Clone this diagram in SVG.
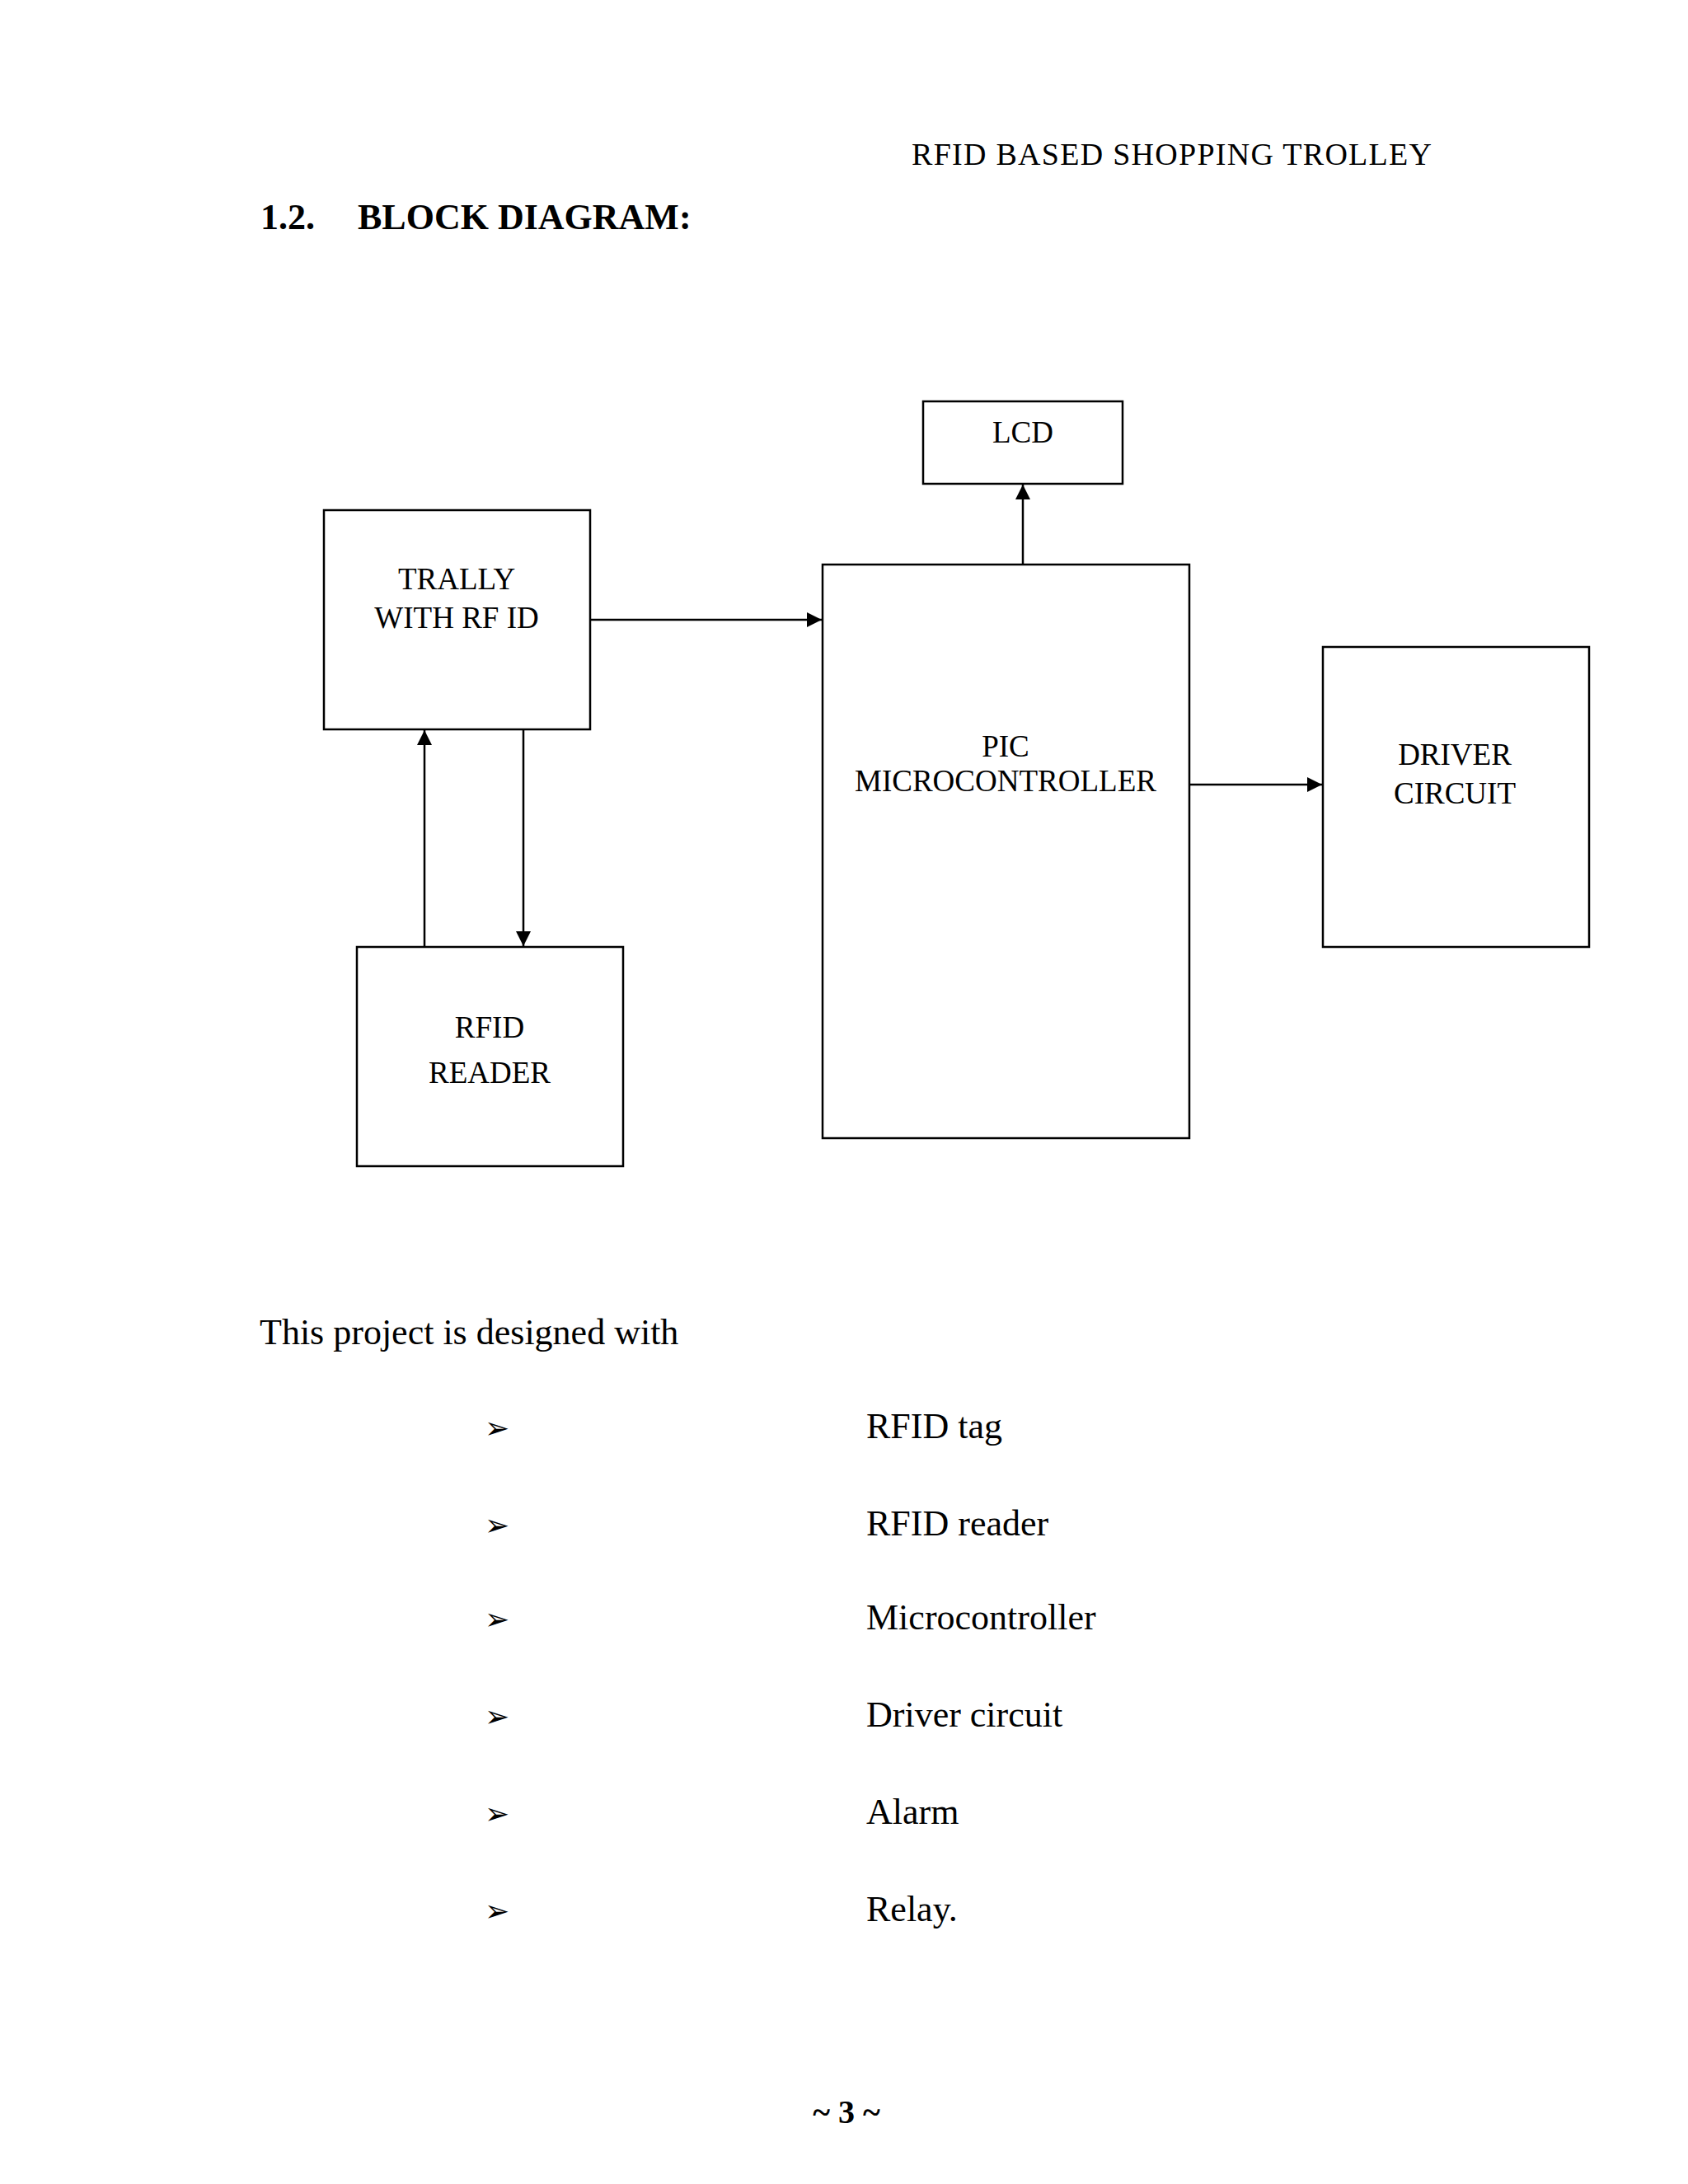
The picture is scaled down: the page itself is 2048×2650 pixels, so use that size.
<svg xmlns="http://www.w3.org/2000/svg" width="2048" height="2650" viewBox="0 0 2048 2650">
<style>
text{font-family:"Liberation Serif","Times New Roman",serif;fill:#000}
.box{fill:none;stroke:#000;stroke-width:2.5}
.c{text-anchor:middle;font-size:37px}
.b{font-size:44px}
.ln{stroke:#000;stroke-width:2.5;fill:none}
</style>
<defs><marker id="ah" markerWidth="10" markerHeight="10" refX="9" refY="5" orient="auto" markerUnits="userSpaceOnUse" viewBox="0 0 10 10"><path d="M0,0 L10,5 L0,10 z" fill="#000"/></marker>
<marker id="a" viewBox="0 0 10 10" refX="10" refY="5" markerWidth="20" markerHeight="18" markerUnits="userSpaceOnUse" orient="auto"><path d="M0,0 L10,5 L0,10 z" fill="#000"/></marker></defs>
<rect width="2048" height="2650" fill="#fff"/>
<text x="1106" y="200" font-size="38" textLength="631">RFID BASED SHOPPING TROLLEY</text>
<text x="316" y="278" font-size="44" font-weight="bold">1.2.</text>
<text x="434" y="278" font-size="44" font-weight="bold">BLOCK DIAGRAM:</text>
<g id="lcd"><rect class="box" x="1120" y="487" width="242" height="100"/><text class="c" x="1241" y="537">LCD</text></g>
<g id="trally"><rect class="box" x="393" y="619" width="323" height="266"/><text class="c" x="554" y="715">TRALLY</text><text class="c" x="554" y="762">WITH RF ID</text></g>
<g id="pic"><rect class="box" x="998" y="685" width="445" height="696"/><text class="c" x="1220" y="918">PIC</text><text class="c" x="1220" y="960">MICROCONTROLLER</text></g>
<g id="driver"><rect class="box" x="1605" y="785" width="323" height="364"/><text class="c" x="1765" y="928" font-size="40">DRIVER</text><text class="c" x="1765" y="975" font-size="40">CIRCUIT</text></g>
<g id="reader"><rect class="box" x="433" y="1149" width="323" height="266"/><text class="c" x="594" y="1259" font-size="46">RFID</text><text class="c" x="594" y="1314" font-size="46">READER</text></g>
<g id="connectors">
<line class="ln" x1="1241" y1="685" x2="1241" y2="588" marker-end="url(#a)"/>
<line class="ln" x1="716" y1="752" x2="997" y2="752" marker-end="url(#a)"/>
<line class="ln" x1="1443" y1="952" x2="1604" y2="952" marker-end="url(#a)"/>
<line class="ln" x1="515" y1="1149" x2="515" y2="886" marker-end="url(#a)"/>
<line class="ln" x1="635" y1="885" x2="635" y2="1148" marker-end="url(#a)"/>
</g>
<text class="b" x="315" y="1631">This project is designed with</text>
<g font-size="40">
<text x="588" y="1745" style="font-family:'DejaVu Sans',sans-serif" font-size="36">➢</text>
<text x="588" y="1863" style="font-family:'DejaVu Sans',sans-serif" font-size="36">➢</text>
<text x="588" y="1977" style="font-family:'DejaVu Sans',sans-serif" font-size="36">➢</text>
<text x="588" y="2095" style="font-family:'DejaVu Sans',sans-serif" font-size="36">➢</text>
<text x="588" y="2213" style="font-family:'DejaVu Sans',sans-serif" font-size="36">➢</text>
<text x="588" y="2331" style="font-family:'DejaVu Sans',sans-serif" font-size="36">➢</text>
</g>
<text class="b" x="1051" y="1745">RFID tag</text>
<text class="b" x="1051" y="1863">RFID reader</text>
<text class="b" x="1051" y="1977">Microcontroller</text>
<text class="b" x="1051" y="2095">Driver circuit</text>
<text class="b" x="1051" y="2213">Alarm</text>
<text class="b" x="1051" y="2331">Relay.</text>
<text x="1027" y="2576" font-size="40" font-weight="bold" text-anchor="middle">~ 3 ~</text>
</svg>
